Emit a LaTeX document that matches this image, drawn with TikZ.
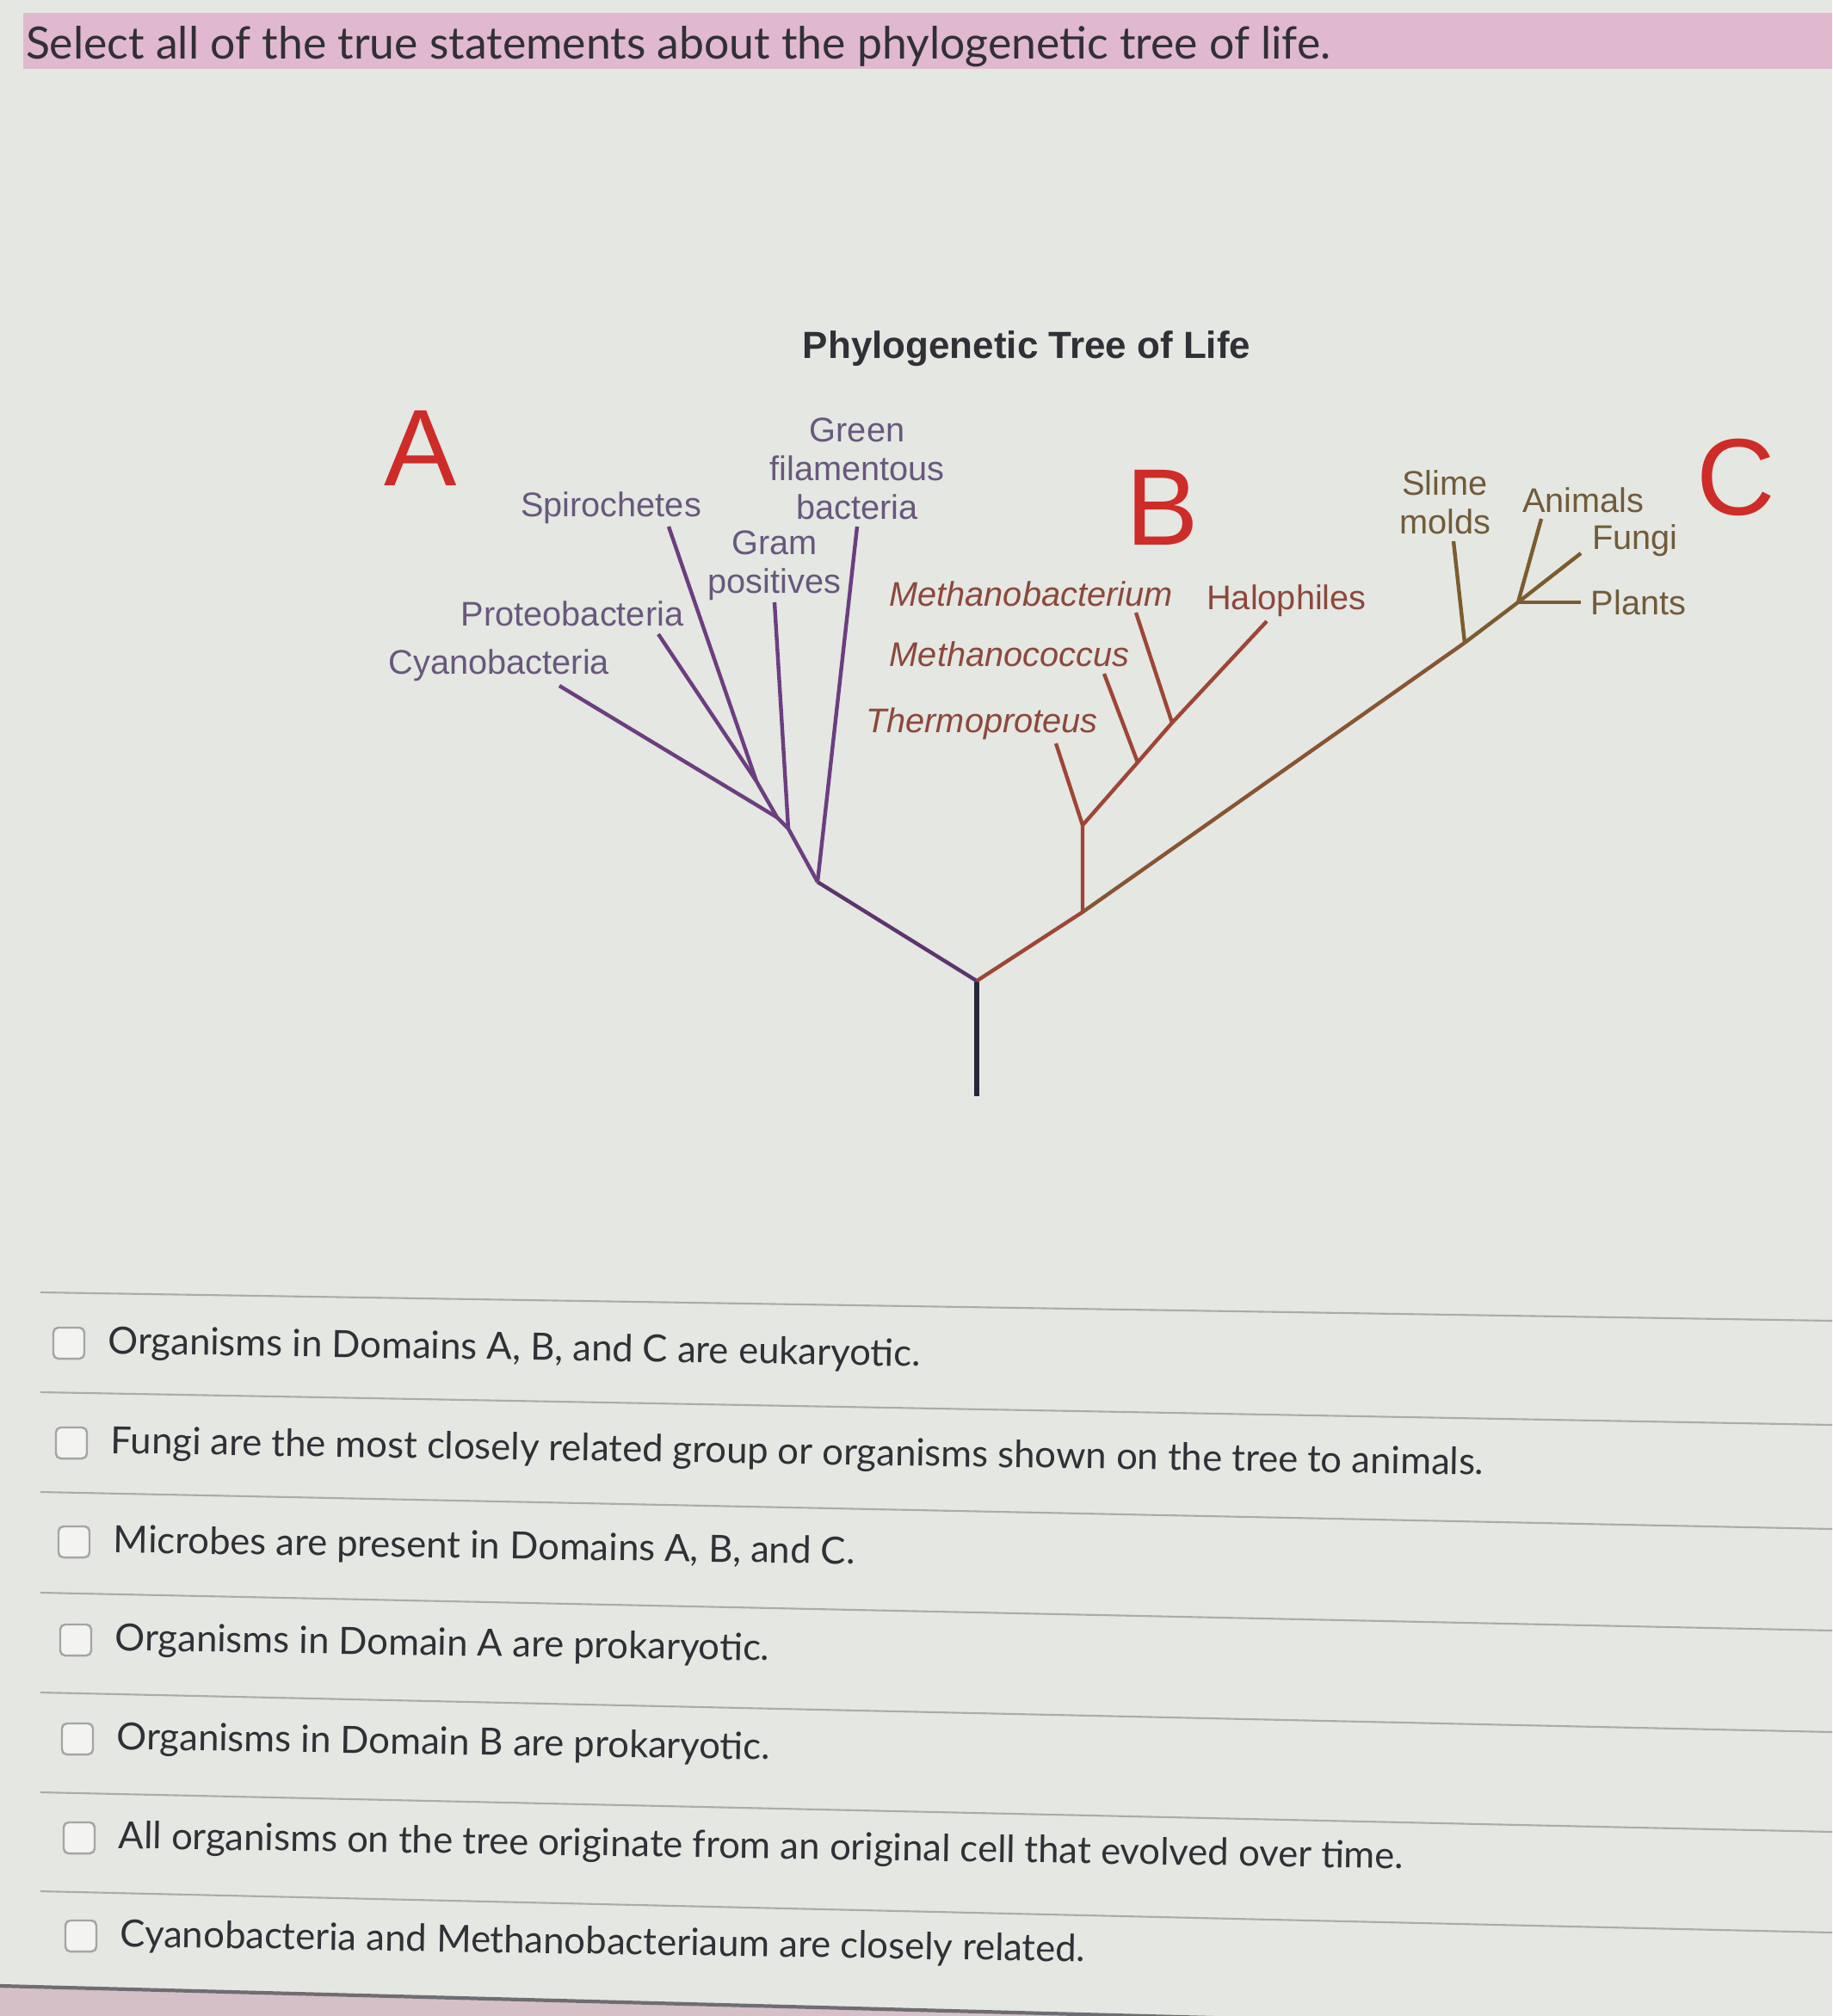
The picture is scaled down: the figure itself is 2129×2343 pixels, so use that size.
\documentclass[tikz,border=0pt]{standalone}
\usepackage{fontspec}
\setmainfont{Lato}
\newfontfamily\arialfont{Liberation Sans}
\usetikzlibrary{positioning}
\definecolor{my_bg}{RGB}{229, 231, 226}
\definecolor{my_pink}{RGB}{224, 184, 207}
\definecolor{my_band}{RGB}{214, 192, 199}
\definecolor{my_dark}{RGB}{48, 48, 54}
\definecolor{my_rule}{RGB}{170, 172, 168}
\definecolor{my_boxgray}{RGB}{165, 166, 164}
\definecolor{my_red}{RGB}{206, 44, 40}
\definecolor{my_root}{RGB}{38, 38, 58}
\definecolor{my_purple}{RGB}{108, 62, 128}
\definecolor{my_purpletext}{RGB}{104, 88, 124}
\definecolor{my_brown}{RGB}{158, 70, 54}
\definecolor{my_browntext}{RGB}{140, 72, 60}
\definecolor{my_olive}{RGB}{124, 92, 46}
\definecolor{my_olivetext}{RGB}{112, 92, 58}
\tikzset {
  qtext/.style = {font=\fontsize{12.4}{15}\selectfont, text=my_dark, anchor=west, inner sep=0pt, rotate=-0.9},
  checkbox/.style = {draw=my_boxgray, line width=0.7pt, rounded corners=1.6pt, fill=white!55!my_bg, minimum size=0.36cm, inner sep=0pt},
  sepline/.style = {draw=my_rule, line width=0.6pt},
  treetitle/.style = {font=\arialfont\bfseries\fontsize{12.5}{15}\selectfont, text=my_dark, inner sep=0pt},
  domlabel/.style = {font=\arialfont\fontsize{36}{36}\selectfont, text=my_red, inner sep=0pt},
  taxa/.style = {font=\arialfont\fontsize{11.3}{12.8}\selectfont, text=my_purpletext, align=center, inner sep=0pt},
  taxb/.style = {taxa, text=my_browntext},
  taxbi/.style = {taxa, text=my_browntext, font=\arialfont\itshape\fontsize{11.3}{12.8}\selectfont},
  taxc/.style = {taxa, text=my_olivetext},
  branch/.style = {line width=1.25pt, line join=round}
}

\begin{document}
\begin{tikzpicture}[x=0.01cm, y=-0.01cm, outer sep=0pt]

    \fill[my_bg] (0,0) rectangle (2129,2343);
    \useasboundingbox (0,0) rectangle (2129,2343);

    % question
    \fill[my_pink] (27,15) rectangle (2129,80);
    \node[qtext, rotate=0.9, font=\fontsize{14.7}{17}\selectfont] (question) at (30,54) {Select all of the true statements about the phylogenetic tree of life.};

    % tree labels
    \node[treetitle] (title) at (1193,405) {Phylogenetic Tree of Life};
    \node[domlabel] (doma) at (489,521) {A};
    \node[domlabel] (domb) at (1351,590) {B};
    \node[domlabel] (domc) at (2017,555) {C};

    \node[taxa] (green) at (996,545) {Green\\filamentous\\bacteria};
    \node[taxa] (spiro) at (710,590) {Spirochetes};
    \node[taxa] (gram) at (900,657) {Gram\\positives};
    \node[taxa] (proteo) at (665,713) {Proteobacteria};
    \node[taxa] (cyano) at (580,773) {Cyanobacteria};

    \node[taxbi] (methb) at (1198,690) {Methanobacterium};
    \node[taxb] (halo) at (1495,698) {Halophiles};
    \node[taxbi] (methc) at (1173,760) {Methanococcus};
    \node[taxbi] (thermo) at (1141,841) {Thermoproteus};

    \node[taxc] (slime) at (1679,584) {Slime\\molds};
    \node[taxc] (animals) at (1840,581) {Animals};
    \node[taxc] (fungi) at (1900,628) {Fungi};
    \node[taxc] (plants) at (1904,700) {Plants};

    % joints and tips
    \coordinate (root_bot) at (1135,1274);
    \coordinate (root) at (1135,1140);
    \coordinate (n_gf) at (950,1025);
    \coordinate (n_gp) at (916,963);
    \coordinate (n_cy) at (903,950);
    \coordinate (n_sp) at (879,908);
    \coordinate (t_gf) at (996,612);
    \coordinate (t_gp) at (900,700);
    \coordinate (t_sp) at (777,612);
    \coordinate (t_pr) at (765,737);
    \coordinate (t_cy) at (650,797);
    \coordinate (n_b) at (1258,1060);
    \coordinate (n_th) at (1258,959);
    \coordinate (n_mc) at (1322,886);
    \coordinate (n_mb) at (1362,840);
    \coordinate (t_th) at (1227,864);
    \coordinate (t_mc) at (1283,783);
    \coordinate (t_mb) at (1320,712);
    \coordinate (t_ha) at (1472,722);
    \coordinate (n_sl) at (1702,747);
    \coordinate (n_c) at (1764,700);
    \coordinate (t_sl) at (1689,629);
    \coordinate (t_an) at (1791,603);
    \coordinate (t_fu) at (1837,643);
    \coordinate (t_pl) at (1837,700);

    \draw[branch, my_root, line width=1.6pt] (root_bot) -- (root);
    \draw[branch, my_purple!85!black] (root) -- (n_gf);
    \draw[branch, my_purple] (n_gf) -- (n_gp) -- (n_cy) -- (n_sp) -- (t_sp);
    \draw[branch, my_purple] (n_gf) -- (t_gf);
    \draw[branch, my_purple] (n_gp) -- (t_gp);
    \draw[branch, my_purple] (n_cy) -- (t_cy);
    \draw[branch, my_purple] (n_sp) -- (t_pr);

    \draw[branch, my_brown] (root) -- (n_b) -- (n_th) -- (n_mc) -- (n_mb) -- (t_ha);
    \draw[branch, my_brown] (n_th) -- (t_th);
    \draw[branch, my_brown] (n_mc) -- (t_mc);
    \draw[branch, my_brown] (n_mb) -- (t_mb);

    \draw[branch, my_olive!65!my_brown] (n_b) -- (n_sl);
    \draw[branch, my_olive] (n_sl) -- (n_c) -- (t_fu);
    \draw[branch, my_olive] (n_sl) -- (t_sl);
    \draw[branch, my_olive] (n_c) -- (t_an);
    \draw[branch, my_olive] (n_c) -- (t_pl);

    % answer choices
    \draw[sepline] (47,1502) -- (2129,1535);
    \draw[sepline] (47,1618) -- (2129,1656);
    \draw[sepline] (47,1734) -- (2129,1777);
    \draw[sepline] (47,1851) -- (2129,1895);
    \draw[sepline] (47,1967) -- (2129,2013);
    \draw[sepline] (47,2083) -- (2129,2129);
    \draw[sepline] (47,2198) -- (2129,2246);

    \node[checkbox] (cb1) at (80,1561) {};
    \node[checkbox] (cb2) at (83,1677) {};
    \node[checkbox] (cb3) at (86,1792) {};
    \node[checkbox] (cb4) at (88,1906) {};
    \node[checkbox] (cb5) at (90,2021) {};
    \node[checkbox] (cb6) at (92,2136) {};
    \node[checkbox] (cb7) at (94,2250) {};

    \node[qtext, right=0.28cm of cb1] (ans1) {Organisms in Domains A, B, and C are eukaryotic.};
    \node[qtext, right=0.28cm of cb2] (ans2) {Fungi are the most closely related group or organisms shown on the tree to animals.};
    \node[qtext, right=0.28cm of cb3] (ans3) {Microbes are present in Domains A, B, and C.};
    \node[qtext, right=0.28cm of cb4] (ans4) {Organisms in Domain A are prokaryotic.};
    \node[qtext, right=0.28cm of cb5] (ans5) {Organisms in Domain B are prokaryotic.};
    \node[qtext, right=0.28cm of cb6] (ans6) {All organisms on the tree originate from an original cell that evolved over time.};
    \node[qtext, right=0.28cm of cb7] (ans7) {Cyanobacteria and Methanobacteriaum are closely related.};

    \fill[my_band] (0,2310) -- (2129,2366) -- (2129,2343) -- (0,2343) -- cycle;
    \draw[my_dark!70, line width=1.2pt] (0,2308) -- (2129,2364);

\end{tikzpicture}
\end{document}
